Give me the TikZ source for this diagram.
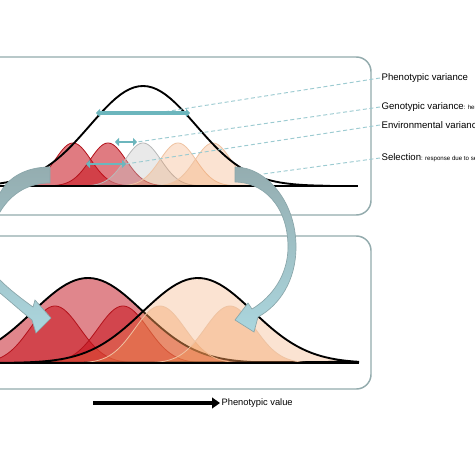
\documentclass[tikz,border=0pt]{standalone}
\usepackage{fontspec}
\setmainfont{Liberation Sans}
\usepackage{tikz}
\usetikzlibrary{arrows.meta}
\definecolor{boxgrey}{HTML}{93ABAD}
\definecolor{barteal}{HTML}{6CB6BD}
\definecolor{leadteal}{HTML}{9CCBD1}
\definecolor{popred}{HTML}{C7232F}
\definecolor{popreddark}{HTML}{C8101A}
\definecolor{popredline}{HTML}{B3121B}
\definecolor{poppeach}{HTML}{F39652}
\definecolor{peachline}{HTML}{EFC3A2}
\definecolor{popgrey}{HTML}{C8C8C8}
\definecolor{greyline}{HTML}{B8B8B8}
\definecolor{arrowtop}{HTML}{94ADB0}
\definecolor{arrowbot}{HTML}{ABD6DE}
\definecolor{arrowline}{HTML}{8AA6AA}
\newcommand{\notefont}{\fontsize{4.6}{5}\selectfont}
\tikzset{
    % bell curve: x, centre, height, sigma, baseline
    declare function={bell(\x,\c,\h,\s,\b)=\b-\h*exp(-0.5*((\x-\c)/\s)^2);},
    panel/.style = {draw=boxgrey, line width=1.1pt, rounded corners=11pt},
    baseline-rule/.style = {draw=black, line width=1.5pt},
    big-bell/.style = {draw=black, line width=1.4pt},
    red-bell/.style = {fill=popred, fill opacity=0.55, draw=black, line width=1.4pt},
    red-small/.style = {fill=popreddark, fill opacity=0.55, draw=popredline, line width=0.6pt},
    peach-bell/.style = {fill=poppeach, fill opacity=0.26, draw=black, line width=1.4pt},
    peach-small/.style = {fill=poppeach, fill opacity=0.33, draw=peachline, line width=0.6pt},
    grey-small/.style = {fill=popgrey, fill opacity=0.4, draw=greyline, line width=0.6pt},
    varbar/.style = {draw=barteal, line width=3pt, arrows={Triangle[length=3pt,width=6pt]-Triangle[length=3pt,width=6pt]}},
    leader/.style = {draw=leadteal, line width=0.7pt, dash pattern=on 3pt off 2pt},
    varlabel/.style = {anchor=west, inner sep=1pt, font=\fontsize{7.2}{8.6}\selectfont},
    sel-arrow/.style = {top color=arrowtop, bottom color=arrowbot, draw=arrowline, line width=0.5pt},
}

\begin{document}
\begin{tikzpicture}[x=0.75pt, y=-0.75pt, samples=80]
\clip (0,0) rectangle (474,474);
\fill[white] (0,0) rectangle (474,474);

% panels
\draw[panel] (-20,57) rectangle (371,215);
\draw[panel] (-20,236) rectangle (371,389);

% top: population before selection
\path[red-small] (13,186) -- plot[domain=13:133] (\x,{bell(\x,73,43,18,186)}) -- cycle;
\path[red-small] (48,186) -- plot[domain=48:168] (\x,{bell(\x,108,43,18,186)}) -- cycle;
\path[grey-small] (83,186) -- plot[domain=83:203] (\x,{bell(\x,143,43,18,186)}) -- cycle;
\path[peach-small, fill opacity=0.26] (118,186) -- plot[domain=118:238] (\x,{bell(\x,178,43,18,186)}) -- cycle;
\path[peach-small, fill opacity=0.26] (153,186) -- plot[domain=153:273] (\x,{bell(\x,213,43,18,186)}) -- cycle;
\draw[big-bell] plot[domain=-30:330] (\x,{bell(\x,143,100,53,186)});
\draw[baseline-rule] (-10,186) -- (358,186);

% bottom: offspring after selection
\path[red-bell] (-40,363) -- plot[domain=-40:310] (\x,{bell(\x,88,85,55,363)}) -- cycle;
\path[red-small] (-30,363) -- plot[domain=-30:140] (\x,{bell(\x,55,57,25,363)}) -- cycle;
\path[red-small] (38,363) -- plot[domain=38:208] (\x,{bell(\x,123,57,25,363)}) -- cycle;
\path[peach-bell] (-20,363) -- plot[domain=-20:359] (\x,{bell(\x,198,85,55,363)}) -- cycle;
\path[peach-small] (75,363) -- plot[domain=75:245] (\x,{bell(\x,160,57,25,363)}) -- cycle;
\path[peach-small] (145,363) -- plot[domain=145:315] (\x,{bell(\x,230,57,25,363)}) -- cycle;
\draw[baseline-rule] (-10,363) -- (359,363);

% variance labels
\node[varlabel] (phen) at (380,78) {Phenotypic variance};
\node[varlabel] (geno) at (380,107) {Genotypic variance{\notefont: heritability}};
\node[varlabel] (envi) at (380,125) {Environmental variance};
\node[varlabel] (sele) at (380,158) {Selection{\notefont: response due to selection}};

\coordinate (pv-l) at (96,113);
\coordinate (pv-r) at (190,113);
\coordinate (pv-m) at (157,113);
\coordinate (gv-l) at (115,142);
\coordinate (gv-r) at (137,142);
\coordinate (ev-l) at (86,164);
\coordinate (ev-r) at (126,164);
\coordinate (sel-end) at (263,174);

\draw[leader] (phen.west) -- (pv-m);
\draw[leader] (geno.west) -- (gv-r);
\draw[leader] (envi.west) -- (ev-r);
\draw[leader] (sele.west) -- (sel-end);

\draw[varbar] (pv-l) -- (pv-r);
\draw[varbar, line width=2.2pt] (gv-l) -- (gv-r);
\draw[varbar, line width=2.2pt] (ev-l) -- (ev-r);

% selection arrows
\path[sel-arrow] (50,167) .. controls (25,167) and (8,178) .. (0,193)
    .. controls (-25,235) and (-20,275) .. (0,293)
    .. controls (12,303) and (22,312) .. (32,320)
    -- (36,333) -- (51,318) -- (35,300) -- (33,307)
    .. controls (22,299) and (10,290) .. (0,280)
    .. controls (-12,265) and (-12,232) .. (0,212)
    .. controls (12,192) and (30,183) .. (50,183) -- cycle;
\path[sel-arrow] (235,167) .. controls (265,167) and (296,200) .. (296,247)
    .. controls (296,280) and (280,305) .. (258,317)
    -- (254,332) -- (235,320) -- (248,303) -- (252,309)
    .. controls (272,297) and (288,275) .. (288,247)
    .. controls (288,205) and (262,182) .. (235,182) -- cycle;

% axis
\coordinate (ax-start) at (93,403);
\node[varlabel, font=\fontsize{7}{8}\selectfont] (axlabel) at (220,403) {Phenotypic value};
\draw[line width=3pt, -{Triangle[length=6pt,width=8pt]}] (ax-start) -- (axlabel.west);
\end{tikzpicture}
\end{document}
